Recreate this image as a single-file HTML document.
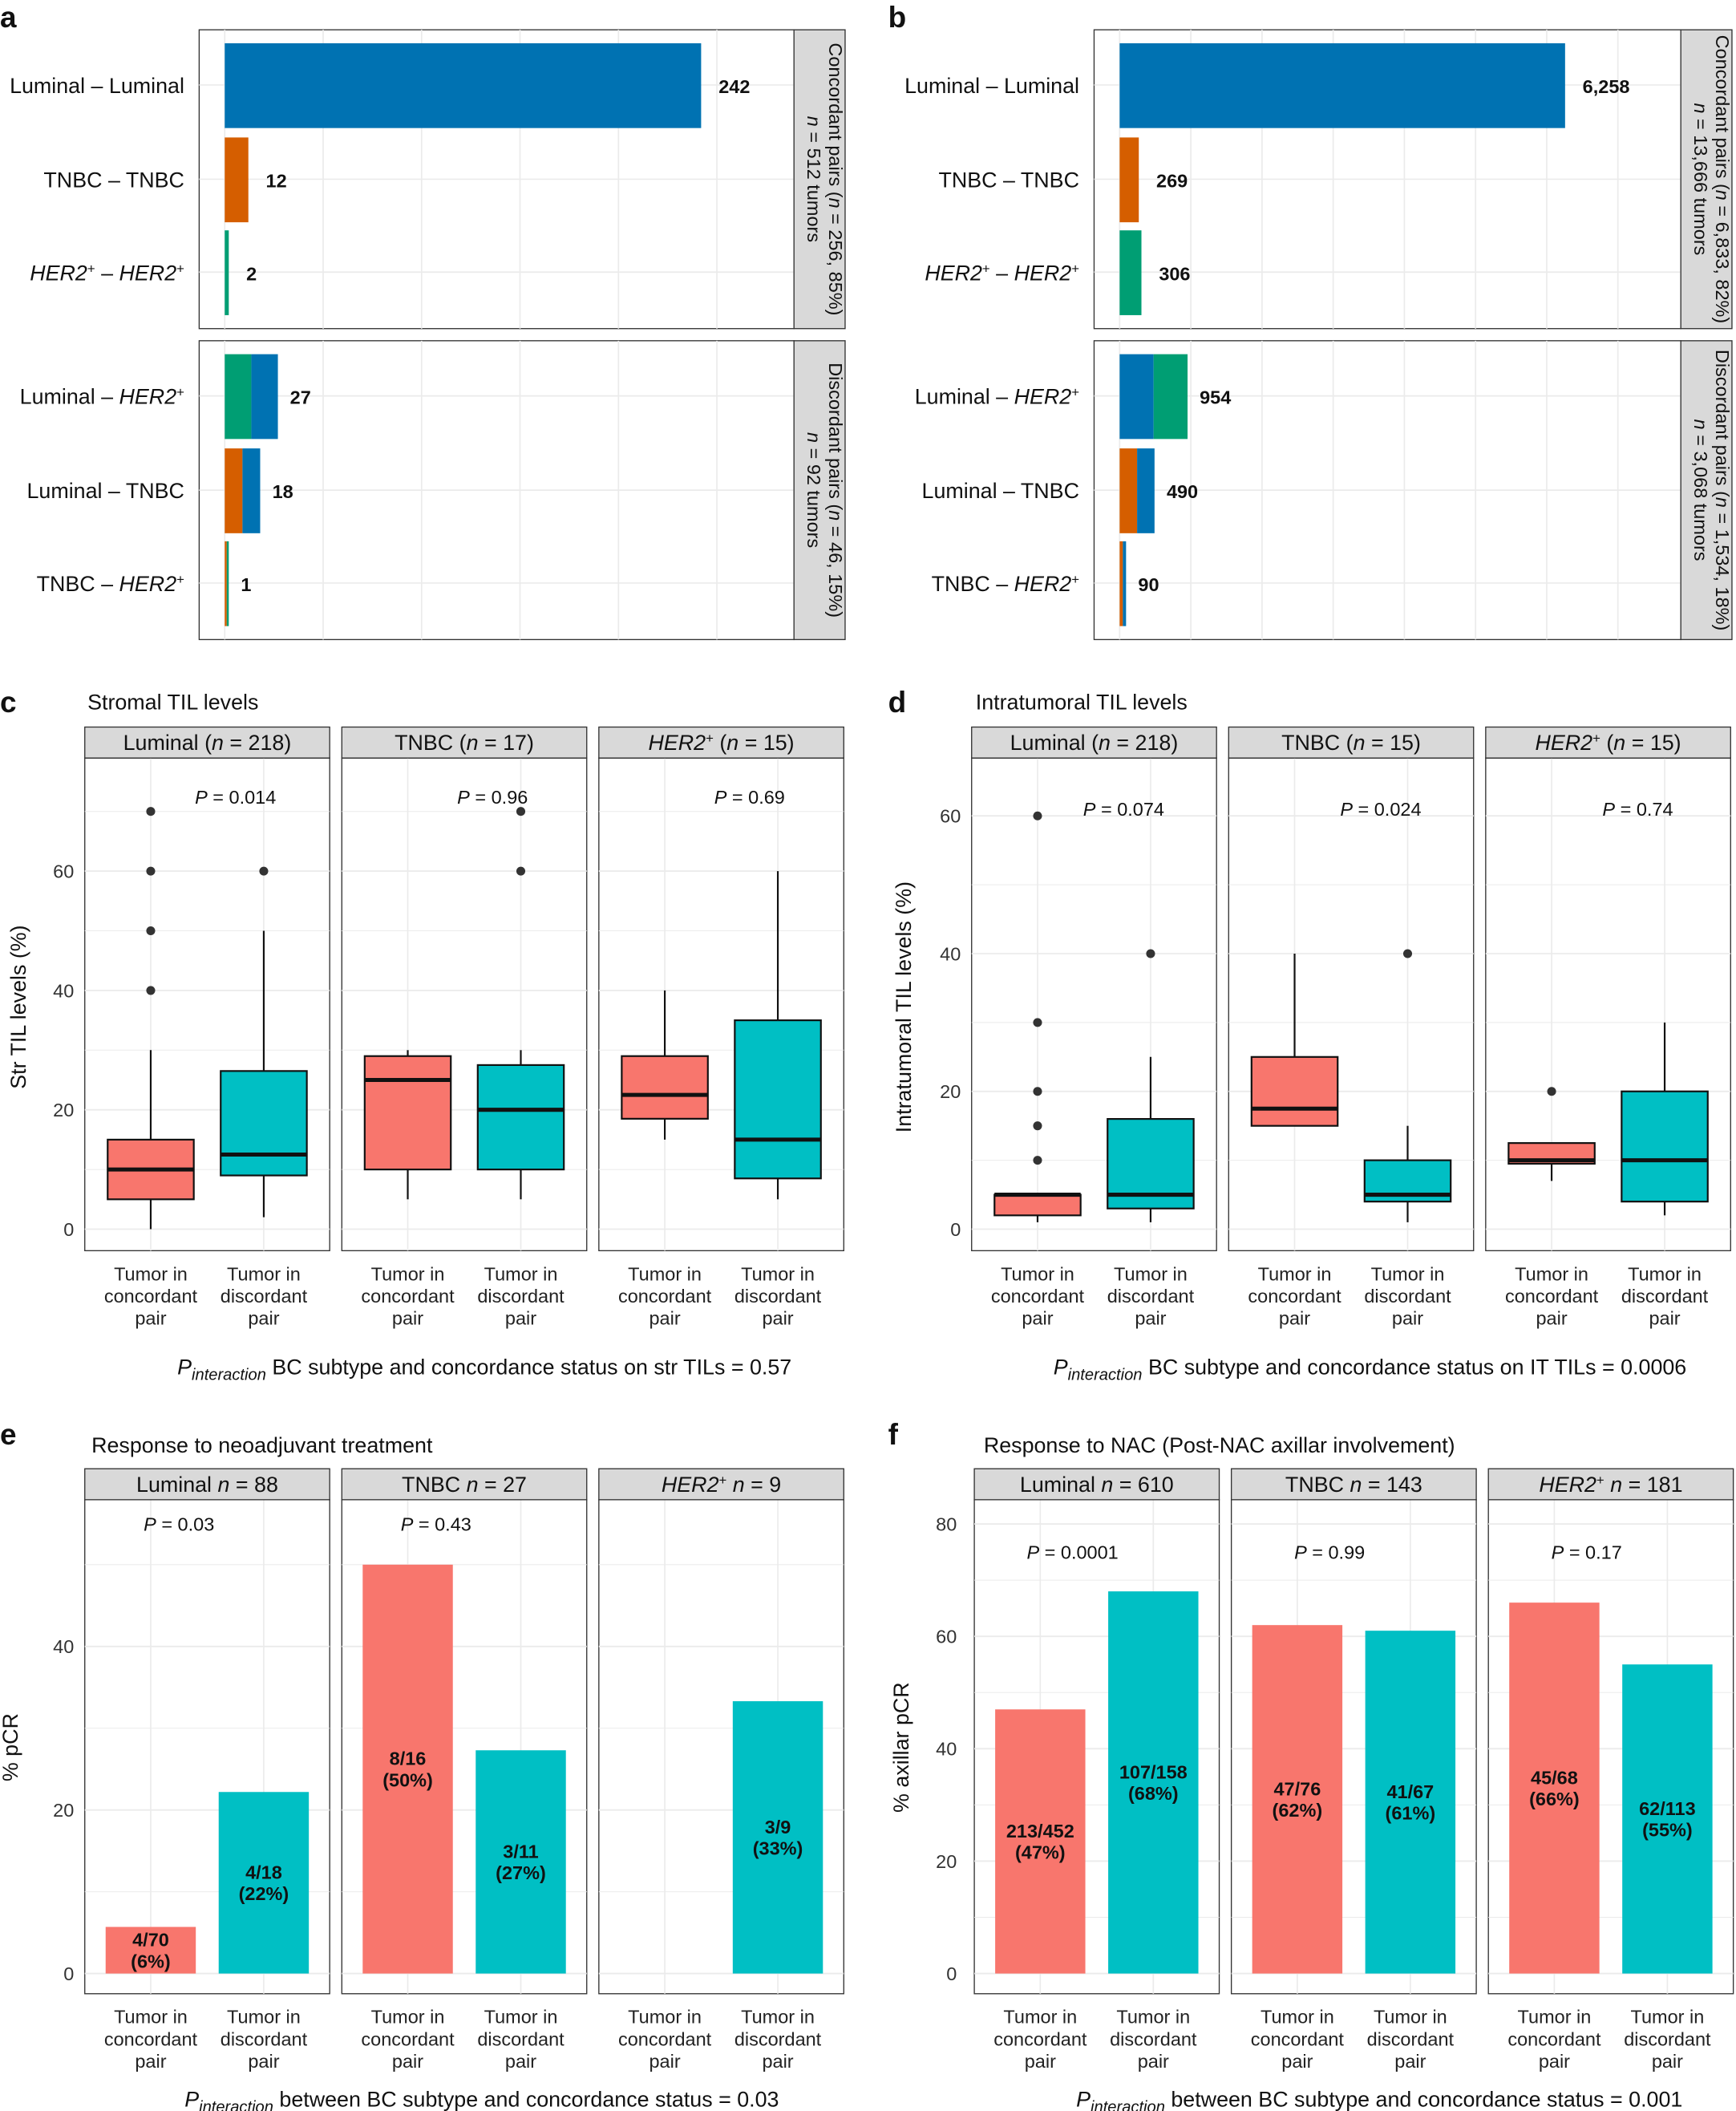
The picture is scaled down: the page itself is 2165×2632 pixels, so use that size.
<!DOCTYPE html>
<html><head><meta charset="utf-8"><style>
html,body{margin:0;padding:0;background:#fff;}
svg{display:block;font-family:"Liberation Sans",Arial,sans-serif;}
</style></head><body>
<svg id="fig" xmlns="http://www.w3.org/2000/svg" width="2165" height="2632" viewBox="0 0 1290 1568"></svg>
<script>
// ---------- DATA ----------
const aConcCats = ['Luminal – Luminal','TNBC – TNBC','HER2+ – HER2+'];
const aConcVals = [242, 12, 2];
const aDiscCats = ['Luminal – HER2+','Luminal – TNBC','TNBC – HER2+'];
const aDiscA = [13.5, 9, 0.5];
const aDiscB = [13.5, 9, 0.5];
const aDiscTot = [27, 18, 1];
const bConcVals = [6258, 269, 306];
const bDiscA = [477, 245, 45];
const bDiscB = [477, 245, 45];
const bDiscTot = [954, 490, 90];

const boxGroups = ['Luminal','TNBC','HER2+'];
const boxCats = ['concordant','discordant'];
// [lowWhisker, q1, median, q3, highWhisker]
const cStats = [[0,5,10,15,30],[2,9,12.5,26.5,50],[5,10,25,29,30],[5,10,20,27.5,30],[15,18.5,22.5,29,40],[5,8.5,15,35,60]];
const cOutliers = [[40,50,60,70],[60],[],[60,70],[],[]];
const cPvals = ['0.014','0.96','0.69'];
const cN = [218,17,15];
const dStats = [[1,2,5,5,5],[1,3,5,16,25],[15,15,17.5,25,40],[1,4,5,10,15],[7,9.5,10,12.5,12.5],[2,4,10,20,30]];
const dOutliers = [[10,15,20,30,60],[40],[],[40],[20],[]];
const dPvals = ['0.074','0.024','0.74'];
const dN = [218,15,15];
const eVals = [5.7, 22.2, 50, 27.3, null, 33.3];
const eLabels = [['4/70','(6%)'],['4/18','(22%)'],['8/16','(50%)'],['3/11','(27%)'],null,['3/9','(33%)']];
const ePvals = ['0.03','0.43',null];
const eN = [88,27,9];
const fVals = [47, 68, 62, 61, 66, 55];
const fLabels = [['213/452','(47%)'],['107/158','(68%)'],['47/76','(62%)'],['41/67','(61%)'],['45/68','(66%)'],['62/113','(55%)']];
const fPvals = ['0.0001','0.99','0.17'];
const fN = [610,143,181];
const cTicks = [0,20,40,60];
const eTicks = [0,20,40];
const fTicks = [0,20,40,60,80];

// ---------- HELPERS ----------
const NS='http://www.w3.org/2000/svg';
const svg=document.getElementById('fig');
const COL={blue:'#0072B2',orange:'#D55E00',green:'#009E73',red:'#F8766D',teal:'#00BFC4',strip:'#D9D9D9',grid:'#EBEBEB',frame:'#333'};
function mk(tag, attrs, name, parent){
  const el=document.createElementNS(NS,tag);
  for(const k in attrs) el.setAttribute(k, attrs[k]);
  
  
  (parent||svg).appendChild(el);
  return el;
}
function txt(x,y,html,opts,name){
  const t=mk('text',Object.assign({x:x,y:y,'font-size':16,fill:'#111'},opts||{}),name);
  t.innerHTML=html;
  return t;
}
function her(s){
  return s.replace(/HER2\+/g,'<tspan font-style="italic">HER2</tspan><tspan baseline-shift="super" font-size="10">+</tspan>');
}
function rect(x,y,w,h,fill,name,extra){return mk('rect',Object.assign({x:x,y:y,width:w,height:h,fill:fill},extra||{}),name);}
function line(x1,y1,x2,y2,stroke,sw,name){return mk('line',{x1:x1,y1:y1,x2:x2,y2:y2,stroke:stroke,'stroke-width':sw},name);}

// panel letters
[['a',0,20],['b',660,20],['c',0,529],['d',660,529],['e',0,1073],['f',660,1073]].forEach(p=>{
  txt(p[1],p[2],p[0],{'font-size':22,'font-weight':'bold'},'panel-label-'+p[0]);
});

// ---------- PANELS a / b ----------
function hbarPanel(id, x0, x1, stripR, xstart, scale, gridStep, gridMax, conc, discA, discB, discTot, concCols, discCols, stripTexts){
  const boxes=[[22,244],[253,475]];
  const rowsY=[[63,133,202],[294,364,433]];
  boxes.forEach((b,bi)=>{
    rect(x0,b[0],x1-x0,b[1]-b[0],'#fff',id+'-plot-area-'+bi,{stroke:COL.frame,'stroke-width':0.8});
    for(let g=0; g<=gridMax; g+=gridStep){
      const gx=xstart+g*scale;
      if(gx<x1) line(gx,b[0],gx,b[1],COL.grid,1,id+'-gridline-x');
    }
    rowsY[bi].forEach(y=>line(x0,y,x1,y,COL.grid,1,id+'-gridline-y'));
    rect(x1,b[0],stripR-x1,b[1]-b[0],COL.strip,id+'-facet-strip-'+bi,{stroke:COL.frame,'stroke-width':0.8});
    const cx=(x1+stripR)/2, cy=(b[0]+b[1])/2;
    const t=mk('text',{x:0,y:0,'font-size':14,fill:'#111','text-anchor':'middle',transform:`translate(${cx+7},${cy}) rotate(90)`},id+'-strip-text-'+bi);
    t.innerHTML=`<tspan x="0" dy="0">${stripTexts[bi][0]}</tspan><tspan x="0" dy="16">${stripTexts[bi][1]}</tspan>`;
  });
  const labX = x0-11;
  conc.forEach((v,i)=>{
    const y=rowsY[0][i];
    const w=Math.max(v*scale,3);
    rect(xstart,y-31,w,63,concCols[i],id+'-bar-concordant-'+i);
    txt(labX,y+6,her(aConcCats[i]),{'text-anchor':'end'},id+'-category-label-'+i);
    txt(xstart+w+13,y+6,v.toLocaleString('en-US'),{'font-size':14,'font-weight':'bold'},id+'-value-label-'+i);
  });
  discA.forEach((v,i)=>{
    const y=rowsY[1][i];
    const wa=Math.max(v*scale,1.5), wb=Math.max(discB[i]*scale,1.5);
    rect(xstart,y-31,wa,63,discCols[i][0],id+'-bar-discordant-a-'+i);
    rect(xstart+wa,y-31,wb,63,discCols[i][1],id+'-bar-discordant-b-'+i);
    txt(labX,y+6,her(aDiscCats[i]),{'text-anchor':'end'},id+'-category-label-d'+i);
    txt(xstart+wa+wb+9,y+6,discTot[i].toLocaleString('en-US'),{'font-size':14,'font-weight':'bold'},id+'-value-label-d'+i);
  });
}
hbarPanel('panel-a',148,590,628,167,(521-167)/242,50,250,aConcVals,aDiscA,aDiscB,aDiscTot,
  [COL.blue,COL.orange,COL.green],[[COL.green,COL.blue],[COL.orange,COL.blue],[COL.orange,COL.green]],
  [['Concordant pairs  (<tspan font-style="italic">n</tspan> = 256, 85%)','<tspan font-style="italic">n</tspan> = 512 tumors'],
   ['Discordant pairs (<tspan font-style="italic">n</tspan> = 46, 15%)','<tspan font-style="italic">n</tspan> = 92 tumors']]);
hbarPanel('panel-b',813,1249,1287,832,(1163-832)/6258,1000,8000,bConcVals,bDiscA,bDiscB,bDiscTot,
  [COL.blue,COL.orange,COL.green],[[COL.blue,COL.green],[COL.orange,COL.blue],[COL.orange,COL.blue]],
  [['Concordant pairs (<tspan font-style="italic">n</tspan> = 6,833, 82%)','<tspan font-style="italic">n</tspan> = 13,666 tumors'],
   ['Discordant pairs (<tspan font-style="italic">n</tspan> = 1,534, 18%)','<tspan font-style="italic">n</tspan> = 3,068 tumors']]);

// ---------- FACET FRAME ----------
function facets(id, lefts, stripTop, plotTop, plotBot, yfun, ticks, minorStep, maxV, stripLabels, tickX){
  lefts.forEach((l,gi)=>{
    const r=l+182;
    rect(l,plotTop,182,plotBot-plotTop,'#fff',id+'-facet-'+gi,{stroke:COL.frame,'stroke-width':0.8});
    for(let v=0; v<=maxV; v+=minorStep){
      const y=yfun(v); if(y>plotTop) line(l,y,r,y,COL.grid,ticks.includes(v)?1.1:0.6,id+'-gridline-y');
    }
    [l+49,l+133].forEach(x=>line(x,plotTop,x,plotBot,COL.grid,1,id+'-gridline-x'));
    rect(l,stripTop,182,plotTop-stripTop,COL.strip,id+'-strip-'+gi,{stroke:COL.frame,'stroke-width':0.8});
    txt(l+91,stripTop+17,stripLabels[gi],{'text-anchor':'middle'},id+'-strip-label-'+gi);
    [['Tumor in','concordant','pair'],['Tumor in','discordant','pair']].forEach((ls,ci)=>{
      const x=[l+49,l+133][ci];
      ls.forEach((s,k)=>txt(x,plotBot+22+k*16.5,s,{'font-size':14,'text-anchor':'middle','fill':'#222'},id+'-x-label-'+gi+'-'+ci));
    });
  });
  ticks.forEach(v=>txt(tickX,yfun(v)+5,String(v),{'font-size':14,'text-anchor':'end','fill':'#333'},id+'-y-tick-'+v));
}
function strips(names, ns, spacer){
  return names.map((g,i)=>{
    const gn = g==='HER2+' ? her('HER2+') : g;
    return `${gn}${spacer}(<tspan font-style="italic">n</tspan> = ${ns[i]})`;
  });
}

// ---------- BOX PANELS c / d ----------
function boxPanel(id, lefts, yfun, stats, outs, pv, pY, pX, ns, ticks, tickX, title, titleX, ylab, ylabX, bottom, bottomX){
  const sl=strips(boxGroups,ns,' ');
  if(id==='panel-c') sl[0]='Luminal  (<tspan font-style="italic">n</tspan> = 218)';
  facets(id,lefts,540,563,929,yfun,ticks,10,70,sl,tickX);
  txt(titleX,527,title,{},id+'-title');
  stats.forEach((s,i)=>{
    const g=Math.floor(i/2), c=i%2;
    const cx=lefts[g]+(c?133:49);
    const fill=c?COL.teal:COL.red;
    line(cx,yfun(s[0]),cx,yfun(s[1]),'#111',1.3,id+'-whisker-low-'+i);
    line(cx,yfun(s[3]),cx,yfun(s[4]),'#111',1.3,id+'-whisker-high-'+i);
    rect(cx-32,yfun(s[3]),64,yfun(s[1])-yfun(s[3]),fill,id+'-box-'+i,{stroke:'#111','stroke-width':1.3});
    line(cx-32,yfun(s[2]),cx+32,yfun(s[2]),'#111',3,id+'-median-'+i);
    outs[i].forEach(o=>mk('circle',{cx:cx,cy:yfun(o),r:3.3,fill:'#333'},id+'-outlier-'+i));
  });
  pv.forEach((p,g)=>txt(lefts[g]+pX,pY,`<tspan font-style="italic">P</tspan> = ${p}`,{'font-size':14,'text-anchor':'middle'},id+'-p-value-'+g));
  txt(0,0,ylab,{'text-anchor':'middle',transform:`translate(${ylabX},748) rotate(-90)`},id+'-y-axis-title');
  txt(bottomX,1021,`<tspan font-style="italic">P</tspan><tspan font-style="italic" font-size="12" dy="4">interaction</tspan><tspan dy="-4"> BC subtype and concordance status on ${bottom}</tspan>`,{'text-anchor':'middle'},id+'-interaction-note');
}
boxPanel('panel-c',[63,254,445],v=>913-v*4.433,cStats,cOutliers,cPvals,597,112,cN,cTicks,55,'Stromal TIL levels',65,'Str TIL levels (%)',19,'str TILs = 0.57',360);
boxPanel('panel-d',[722,913,1104],v=>913-v*5.117,dStats,dOutliers,dPvals,606,113,dN,cTicks,714,'Intratumoral TIL levels',725,'Intratumoral TIL levels (%)',677,'IT TILs = 0.0006',1018);

// ---------- BAR PANELS e / f ----------
function barPanel(id, lefts, yfun, vals, labs, pv, pY, pXs, ns, ticks, maxV, tickX, title, titleX, ylab, ylabX, bottom, bottomX){
  const sl=boxGroups.map((g,i)=>(g==='HER2+'?her('HER2+'):g)+` <tspan font-style="italic">n</tspan> = ${ns[i]}`);
  facets(id,lefts,1091,1114,1481,yfun,ticks,10,maxV,sl,tickX);
  txt(titleX,1079,title,{},id+'-title');
  vals.forEach((v,i)=>{
    if(v===null) return;
    const g=Math.floor(i/2), c=i%2;
    const cx=lefts[g]+(c?133:49);
    const top=yfun(v), bot=yfun(0);
    rect(cx-33.5,top,67,bot-top,c?COL.teal:COL.red,id+'-bar-'+i);
    const my=(top+bot)/2;
    txt(cx,my-3,labs[i][0],{'font-size':14,'font-weight':'bold','text-anchor':'middle'},id+'-bar-label-'+i);
    txt(cx,my+13,labs[i][1],{'font-size':14,'font-weight':'bold','text-anchor':'middle'},id+'-bar-label-pct-'+i);
  });
  pv.forEach((p,g)=>{ if(p) txt(lefts[g]+pXs,pY,`<tspan font-style="italic">P</tspan> = ${p}`,{'font-size':14,'text-anchor':'middle'},id+'-p-value-'+g); });
  txt(0,0,ylab,{'text-anchor':'middle',transform:`translate(${ylabX},1298) rotate(-90)`},id+'-y-axis-title');
  txt(bottomX,1565,`<tspan font-style="italic">P</tspan><tspan font-style="italic" font-size="12" dy="4">interaction</tspan><tspan dy="-4"> between BC subtype and concordance status = ${bottom}</tspan>`,{'text-anchor':'middle'},id+'-interaction-note');
}
barPanel('panel-e',[63,254,445],v=>1466-v*6.075,eVals,eLabels,ePvals,1137,70,eN,eTicks,50,55,'Response to neoadjuvant treatment',68,'% pCR',13,'0.03',358);
barPanel('panel-f',[724,915,1106],v=>1466-v*4.175,fVals,fLabels,fPvals,1158,73,fN,fTicks,80,711,'Response to NAC (Post-NAC axillar involvement)',731,'% axillar pCR',675,'0.001',1025);
</script>
</body></html>
